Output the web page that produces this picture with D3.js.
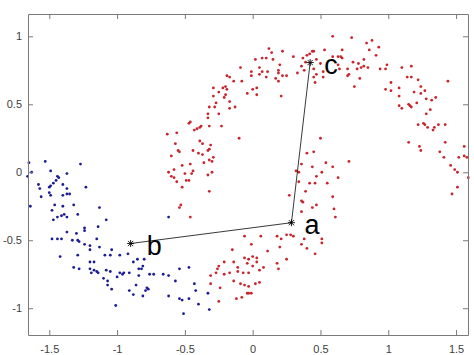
<!DOCTYPE html>
<html>
<head>
<meta charset="utf-8">
<script src="https://cdn.jsdelivr.net/npm/d3@7"></script>
<style>
  body { margin: 0; background: #fff; }
  svg { display: block; }
</style>
</head>
<body>
<script>
// settings
var W = 474, H = 355;
var margin = {left: 28, right: 6, top: 14, bottom: 20};

// tick values
var xTicks = [-1.5, -1, -0.5, 0, 0.5, 1, 1.5];
var yTicks = [-1, -0.5, 0, 0.5, 1];
var xLimits = [-1.657, 1.588];
var yLimits = [-1.197, 1.164];

// red cluster
var redPts = [
  [0.12,0.91],[0.14,0.88],[0.22,0.89],[0.30,0.85],[0.02,0.83],[0.07,0.84],[0.10,0.84],[0.15,0.83],
  [0.37,0.84],[0.40,0.86],[0.42,0.87],[0.44,0.89],[0.45,0.89],[0.47,0.83],[0.39,0.81],[0.36,0.78],
  [0.38,0.75],[0.33,0.73],[0.47,0.72],[0.45,0.70],[0.46,0.66],[0.20,0.79],[-0.09,0.77],[0.05,0.77],
  [-0.01,0.74],[0.07,0.74],[0.11,0.74],[0.19,0.75],[0.19,0.73],[0.05,0.72],[-0.01,0.71],[0.10,0.70],
  [0.17,0.69],[0.22,0.71],[0.25,0.71],[0.19,0.67],[-0.19,0.71],[-0.17,0.70],[-0.14,0.67],[-0.08,0.67],
  [-0.29,0.62],[-0.22,0.62],[-0.20,0.63],[-0.25,0.59],[-0.19,0.61],[0.00,0.61],[0.03,0.62],[-0.04,0.58],
  [0.03,0.57],[-0.29,0.56],[-0.20,0.57],[-0.21,0.55],[0.21,0.56],[-0.17,0.52],[-0.27,0.51],[-0.32,0.48],
  [-0.28,0.48],[-0.13,0.48],[-0.17,0.47],[-0.33,0.43],[-0.25,0.43],[-0.33,0.40],
  [0.59,1.00],[0.73,0.99],[0.84,0.95],[0.88,0.97],[0.93,0.92],[0.86,0.90],[0.91,0.86],[0.53,0.90],
  [0.66,0.90],[0.50,0.80],[0.59,0.85],[0.63,0.85],[0.65,0.85],[0.66,0.84],[0.63,0.79],[0.64,0.76],
  [0.74,0.81],[0.78,0.80],[0.82,0.83],[0.77,0.76],[0.80,0.77],[0.82,0.78],[0.85,0.77],[0.70,0.76],
  [0.71,0.72],[0.70,0.71],[0.79,0.69],[0.75,0.63],[0.45,0.76],[0.52,0.74],[0.52,0.70],[0.94,0.76],
  [0.98,0.76],[0.99,0.79],[1.10,0.77],[1.17,0.78],[1.14,0.70],[1.17,0.70],[1.22,0.68],[1.02,0.66],
  [1.02,0.60],[0.98,0.61],[1.08,0.62],[1.08,0.56],[1.24,0.63],[1.27,0.60],[1.24,0.58],[1.19,0.59],
  [1.28,0.54],[1.32,0.53],[1.35,0.55],[1.21,0.51],[1.08,0.49],[1.10,0.47],[1.15,0.50],[1.16,0.49],
  [1.17,0.48],[1.31,0.46],[1.28,0.43],[1.44,0.67],
  [1.22,0.35],[1.26,0.36],[1.27,0.35],[1.29,0.33],[1.33,0.31],[1.34,0.33],[1.37,0.35],[1.42,0.35],
  [1.15,0.22],[1.23,0.19],[1.24,0.16],[1.42,0.22],[1.38,0.15],[1.41,0.11],[1.56,0.19],[1.52,0.11],
  [1.56,0.12],[1.58,0.11],[1.46,0.05],[1.49,0.02],[1.51,0.00],[1.59,-0.04],[1.51,-0.11],[1.47,-0.16],
  [0.50,0.25],[0.45,0.15],[0.54,0.07],[0.59,0.04],[0.51,0.00],[0.47,-0.03],[0.71,0.08],[0.63,-0.04],
  [0.55,-0.08],[0.59,-0.18],[0.60,-0.27],[0.61,-0.33],[0.51,-0.49],[0.51,-0.52],[0.46,-0.60],
  [-0.46,0.37],[-0.47,0.36],[-0.38,0.34],[-0.39,0.33],[-0.41,0.32],[-0.43,0.31],[-0.32,0.34],[-0.23,0.34],
  [-0.63,0.28],[-0.56,0.29],[-0.10,0.25],[-0.39,0.23],[-0.37,0.21],[-0.31,0.20],[-0.57,0.21],[-0.55,0.16],
  [-0.54,0.15],[-0.44,0.16],[-0.40,0.14],[-0.37,0.13],[-0.33,0.16],[-0.32,0.17],[-0.60,0.12],[-0.29,0.11],
  [-0.32,0.09],[-0.30,0.08],[-0.52,0.05],[-0.46,0.06],[-0.36,0.07],[-0.58,0.02],[-0.44,0.01],[-0.62,0.00],
  [-0.60,-0.03],[-0.58,-0.04],[-0.50,-0.01],[-0.45,-0.01],[-0.30,0.00],[-0.33,-0.02],[-0.56,-0.07],[-0.49,-0.06],
  [-0.47,-0.06],[-0.52,-0.11],[-0.32,-0.14],[-0.53,-0.24],[-0.54,-0.26],[-0.46,-0.33],
  [0.40,0.14],[0.36,0.06],[0.44,0.04],[0.32,0.01],[0.34,0.00],[0.34,-0.07],[0.42,-0.08],[0.46,-0.08],
  [0.39,-0.14],[0.27,-0.17],[0.36,-0.21],[0.37,-0.22],[0.47,-0.24],[0.44,-0.26],[0.36,-0.29],
  [-0.06,-0.47],[0.06,-0.47],[0.18,-0.47],[0.25,-0.46],[0.28,-0.46],[0.30,-0.47],[0.21,-0.49],[0.38,-0.49],
  [-0.01,-0.53],[0.36,-0.53],[0.40,-0.56],[-0.15,-0.57],[0.11,-0.58],[0.20,-0.55],[-0.06,-0.63],[-0.03,-0.64],
  [0.00,-0.62],[0.03,-0.63],[0.25,-0.64],[-0.21,-0.66],[-0.14,-0.66],[-0.04,-0.67],[0.03,-0.66],[0.18,-0.67],
  [-0.25,-0.69],[-0.26,-0.71],[-0.11,-0.70],[0.00,-0.69],[0.08,-0.70],[0.19,-0.71],[-0.27,-0.74],[-0.21,-0.75],
  [-0.17,-0.74],[-0.11,-0.73],[-0.07,-0.74],[-0.03,-0.74],[0.05,-0.72],[-0.31,-0.76],[-0.14,-0.80],[-0.09,-0.82],
  [-0.06,-0.83],[0.02,-0.82],[0.05,-0.81],[-0.31,-0.82],[-0.24,-0.85],[-0.03,-0.84],[-0.04,-0.89],[-0.03,-0.89],
  [-0.01,-0.89],[-0.12,-0.93],[-0.08,-0.92],[-0.25,-0.95]
];

// blue cluster
var bluePts = [
  [-0.73,-0.75],[-0.66,-0.75],[-0.62,-0.76],[-0.54,-0.71],[-0.47,-0.70],[-0.57,-0.80],[-0.43,-0.82],[-0.42,-0.87],
  [-0.62,-0.91],[-0.54,-0.93],[-0.52,-0.94],[-0.47,-0.93],[-0.40,-0.97],[-0.33,-0.89],[-0.32,-1.01],[-0.51,-1.04],
  [-1.48,-0.49],[-1.44,-0.49],[-1.41,-0.49],[-1.37,-0.44],[-1.30,-0.45],[-1.24,-0.43],[-1.33,-0.50],[-1.29,-0.50],
  [-1.28,-0.51],[-1.24,-0.53],[-1.20,-0.54],[-1.15,-0.49],[-1.13,-0.55],[-1.14,-0.40],[-1.08,-0.35],[-1.04,-0.57],
  [-1.05,-0.61],[-1.20,-0.57],[-1.42,-0.62],[-1.29,-0.61],[-1.09,-0.61],[-0.98,-0.61],[-0.92,-0.60],[-1.20,-0.66],
  [-1.17,-0.66],[-0.88,-0.66],[-0.85,-0.64],[-0.80,-0.64],[-1.32,-0.70],[-1.28,-0.71],[-1.20,-0.71],[-1.17,-0.72],
  [-1.15,-0.73],[-1.14,-0.74],[-1.19,-0.74],[-1.08,-0.72],[-1.05,-0.73],[-0.98,-0.74],[-0.96,-0.75],[-0.95,-0.74],
  [-0.91,-0.74],[-0.81,-0.69],[-0.84,-0.71],[-0.82,-0.71],[-1.10,-0.78],[-1.07,-0.80],[-1.00,-0.77],[-0.84,-0.76],
  [-0.76,-0.75],[-1.07,-0.83],[-1.04,-0.86],[-0.91,-0.87],[-0.88,-0.90],[-0.86,-0.83],[-0.79,-0.87],[-0.78,-0.85],
  [-0.77,-0.86],[-0.81,-0.91],[-1.01,-0.98],
  [-1.65,0.07],[-1.63,0.00],[-1.66,-0.03],[-1.53,0.08],[-1.49,0.01],[-1.27,0.06],[-1.37,-0.01],[-1.44,-0.03],
  [-1.43,-0.04],[-1.45,-0.06],[-1.47,-0.08],[-1.49,-0.10],[-1.50,-0.11],[-1.58,-0.09],[-1.57,-0.12],[-1.40,-0.09],
  [-1.37,-0.12],[-1.23,-0.11],[-1.50,-0.15],[-1.49,-0.17],[-1.56,-0.18],[-1.40,-0.17],[-1.37,-0.16],[-1.35,-0.16],
  [-1.32,-0.24],[-1.64,-0.25],[-1.46,-0.24],[-1.40,-0.25],[-1.13,-0.26],[-1.48,-0.28],[-1.39,-0.31],[-1.44,-0.33],
  [-1.41,-0.32],[-1.37,-0.33],[-1.29,-0.31],[-1.47,-0.35],[-1.24,-0.41],[-0.62,-0.33]
];

// marked points and their labels
var markNames = ['a', 'b', 'c'];
var markX = [0.286, -0.90, 0.424];
var markY = [-0.371, -0.524, 0.807];
var segments = [[0, 1], [0, 2]];   // a-b, a-c

var svg = d3.select('body').append('svg')
  .attr('width', W)
  .attr('height', H);

var x = d3.scaleLinear().domain(xLimits).range([margin.left, W - margin.right]);
var y = d3.scaleLinear().domain(yLimits).range([H - margin.bottom, margin.top]);

var frameColor = '#7a7a7a';
var textColor = '#404040';

// box
svg.append('rect')
  .attr('x', x(xLimits[0])).attr('y', y(yLimits[1]))
  .attr('width', x(xLimits[1]) - x(xLimits[0]))
  .attr('height', y(yLimits[0]) - y(yLimits[1]))
  .attr('fill', '#fff');

var plot = svg.append('g');

plot.selectAll('circle.red')
  .data(redPts)
  .enter().append('circle')
  .attr('class', 'red')
  .attr('cx', function(d) { return x(d[0]); })
  .attr('cy', function(d) { return y(d[1]); })
  .attr('r', 1.4)
  .attr('fill', '#c8242c');

plot.selectAll('circle.blue')
  .data(bluePts)
  .enter().append('circle')
  .attr('class', 'blue')
  .attr('cx', function(d) { return x(d[0]); })
  .attr('cy', function(d) { return y(d[1]); })
  .attr('r', 1.4)
  .attr('fill', '#1c1c94');

// segments
plot.selectAll('line.seg')
  .data(segments)
  .enter().append('line')
  .attr('class', 'seg')
  .attr('x1', function(d) { return x(markX[d[0]]); })
  .attr('y1', function(d) { return y(markY[d[0]]); })
  .attr('x2', function(d) { return x(markX[d[1]]); })
  .attr('y2', function(d) { return y(markY[d[1]]); })
  .attr('stroke', '#222')
  .attr('stroke-width', 0.9);

// star markers
var star = plot.selectAll('g.star')
  .data(markNames)
  .enter().append('g')
  .attr('class', 'star')
  .attr('transform', function(d, i) { return 'translate(' + x(markX[i]) + ',' + y(markY[i]) + ')'; });
var s = 3.5, t = 2.6;
[[-s, 0, s, 0], [0, -s, 0, s], [-t, -t, t, t], [-t, t, t, -t]].forEach(function(l) {
  star.append('line')
    .attr('x1', l[0]).attr('y1', l[1]).attr('x2', l[2]).attr('y2', l[3])
    .attr('stroke', '#000').attr('stroke-width', 0.9);
});

// labels
var labelOffset = [[13, 11.5], [16, 11.5], [14, 11]];
plot.selectAll('text.lab')
  .data(markNames)
  .enter().append('text')
  .attr('class', 'lab')
  .attr('x', function(d, i) { return x(markX[i]) + labelOffset[i][0]; })
  .attr('y', function(d, i) { return y(markY[i]) + labelOffset[i][1]; })
  .attr('font-family', 'Liberation Sans, Arial, sans-serif')
  .attr('font-size', 27)
  .attr('fill', '#000')
  .text(function(d) { return d; });

// axes (matlab style, ticks inside, box on)
function fmt(v) { return String(v); }
var tickLen = 5;

var xb = svg.append('g').attr('transform', 'translate(0,' + y(yLimits[0]) + ')')
  .call(d3.axisBottom(x).tickValues(xTicks).tickSizeInner(-tickLen).tickSizeOuter(0).tickPadding(10).tickFormat(fmt));
var xt = svg.append('g').attr('transform', 'translate(0,' + y(yLimits[1]) + ')')
  .call(d3.axisTop(x).tickValues(xTicks).tickSizeInner(-tickLen).tickSizeOuter(0).tickFormat(''));
var yl = svg.append('g').attr('transform', 'translate(' + x(xLimits[0]) + ',0)')
  .call(d3.axisLeft(y).tickValues(yTicks).tickSizeInner(-tickLen).tickSizeOuter(0).tickPadding(6).tickFormat(fmt));
var yr = svg.append('g').attr('transform', 'translate(' + x(xLimits[1]) + ',0)')
  .call(d3.axisRight(y).tickValues(yTicks).tickSizeInner(-tickLen).tickSizeOuter(0).tickFormat(''));

[xb, xt, yl, yr].forEach(function(g) {
  g.select('.domain').attr('stroke', frameColor).attr('stroke-width', 1);
  g.selectAll('.tick line').attr('stroke', frameColor);
  g.selectAll('.tick text')
    .attr('fill', textColor)
    .attr('font-family', 'Liberation Sans, Arial, sans-serif')
    .attr('font-size', 11);
});
</script>
</body>
</html>
